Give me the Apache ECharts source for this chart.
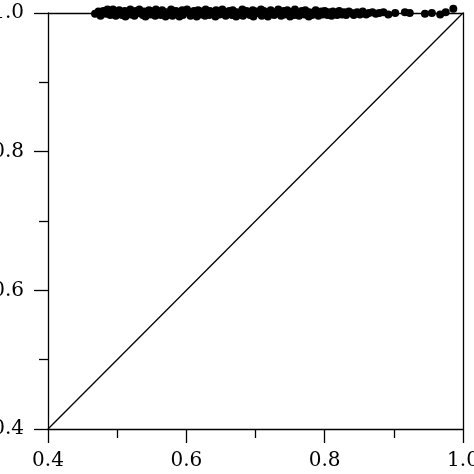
<!DOCTYPE html>
<html><head><meta charset="utf-8">
<script src="https://cdn.jsdelivr.net/npm/echarts@6/dist/echarts.min.js"></script>
<style>html,body{margin:0;padding:0;background:#fff;}#c{width:474px;height:474px;}</style>
</head><body><div id="c"></div>
<script>
const xTicks = [0.4, 0.6, 0.8, 1.0];
const yTicks = [0.4, 0.6, 0.8, 1.0];
const diagonalX = [0.4, 1.0];
const diagonalY = [0.4, 1.0];
const pointX = [0.468,0.473,0.476,0.480,0.484,0.486,0.490,0.493,0.494,0.498,0.502,0.503,0.507,0.511,0.512,0.516,0.519,0.520,0.525,0.527,0.531,0.532,0.537,0.539,0.541,0.546,0.548,0.550,0.555,0.556,0.561,0.563,0.565,0.570,0.571,0.576,0.578,0.580,0.585,0.586,0.590,0.594,0.595,0.600,0.601,0.606,0.607,0.611,0.615,0.617,0.621,0.622,0.627,0.628,0.633,0.634,0.637,0.642,0.643,0.648,0.649,0.652,0.657,0.658,0.662,0.666,0.667,0.672,0.673,0.677,0.681,0.682,0.687,0.688,0.692,0.696,0.697,0.702,0.703,0.708,0.709,0.712,0.717,0.718,0.722,0.726,0.727,0.732,0.733,0.737,0.741,0.742,0.746,0.750,0.752,0.756,0.757,0.762,0.763,0.767,0.771,0.772,0.777,0.778,0.782,0.786,0.787,0.791,0.795,0.797,0.800,0.804,0.806,0.810,0.812,0.816,0.818,0.821,0.825,0.828,0.831,0.835,0.839,0.842,0.847,0.851,0.855,0.860,0.864,0.869,0.874,0.879,0.885,0.892,0.902,0.916,0.923,0.945,0.955,0.967,0.975,0.986];
const pointY = [0.999,1.002,0.996,1.003,0.999,1.005,0.997,1.001,1.005,0.996,1.000,1.004,0.997,1.003,0.995,1.001,1.005,0.998,0.996,1.003,1.000,1.005,0.997,1.002,0.995,1.004,0.998,1.002,0.996,1.005,1.000,0.997,1.004,0.995,1.001,0.998,1.005,0.996,1.003,1.000,0.995,1.004,0.997,1.001,1.005,0.996,1.000,1.003,0.995,1.004,0.998,1.002,0.996,1.005,0.997,1.003,1.000,0.995,1.004,0.998,1.001,1.005,0.996,1.000,1.003,0.997,1.004,0.995,1.001,0.998,1.005,0.996,1.003,1.000,0.997,1.004,0.995,1.002,1.000,1.005,0.996,1.003,0.998,0.995,1.004,1.001,0.997,1.000,1.005,0.996,1.003,0.998,1.004,0.995,1.001,0.997,1.005,1.000,0.996,1.003,0.998,1.004,0.995,1.001,0.997,1.000,1.004,0.996,1.002,0.998,1.003,0.997,1.001,0.996,1.002,1.000,0.997,1.003,0.998,1.001,0.997,1.002,1.000,0.997,1.001,0.998,1.002,0.998,1.000,1.001,0.999,1.000,1.001,0.998,1.000,1.001,1.000,0.999,1.000,0.998,1.001,1.006];

const chart = echarts.init(document.getElementById('c'));
const font = 'DejaVu Serif';
const fmt = v => Number(v).toFixed(1);
const pts = pointX.map((x, i) => [x, pointY[i]]);
const diag = diagonalX.map((x, i) => [x, diagonalY[i]]);
const lineStyle = { color: '#000', width: 1.3 };
chart.setOption({
  animation: false,
  backgroundColor: '#fff',
  grid: { left: 48, right: 11, top: 13, bottom: 45, outerBoundsMode: 'none', containLabel: false },
  xAxis: [{
    type: 'value', min: xTicks[0], max: xTicks[xTicks.length - 1], interval: 0.2,
    axisLine: { lineStyle }, splitLine: { show: false },
    axisTick: { length: 14, lineStyle },
    minorTick: { show: true, splitNumber: 2, length: 9, lineStyle },
    axisLabel: { formatter: fmt, fontFamily: font, fontSize: 20, color: '#000', margin: 22 }
  }, {
    type: 'value', position: 'top', min: 0.4, max: 1.0,
    axisLine: { show: true, lineStyle }, axisTick: { show: false }, axisLabel: { show: false }, splitLine: { show: false }
  }],
  yAxis: [{
    type: 'value', min: yTicks[0], max: yTicks[yTicks.length - 1], interval: 0.2,
    axisLine: { lineStyle }, splitLine: { show: false },
    axisTick: { length: 14, lineStyle },
    minorTick: { show: true, splitNumber: 2, length: 9, lineStyle },
    axisLabel: { formatter: fmt, fontFamily: font, fontSize: 20, color: '#000', margin: 24 }
  }, {
    type: 'value', position: 'right', min: 0.4, max: 1.0,
    axisLine: { show: true, lineStyle }, axisTick: { show: false }, axisLabel: { show: false }, splitLine: { show: false }
  }],
  series: [{
    type: 'line', data: diag, symbol: 'none', lineStyle: { color: '#000', width: 1.3 }, silent: true
  }, {
    type: 'scatter', data: pts, symbolSize: 8, clip: false, itemStyle: { color: '#000', opacity: 1 }
  }]
});
</script></body></html>
